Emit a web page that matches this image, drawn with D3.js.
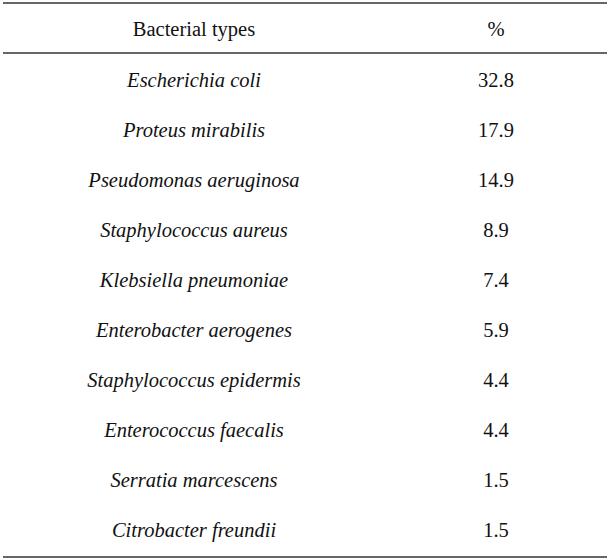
<!DOCTYPE html>
<html>
<head>
<meta charset="utf-8">
<script src="https://cdn.jsdelivr.net/npm/d3@7"></script>
<style>
  body { margin: 0; background: #fff; }
</style>
</head>
<body>
<script>
// table contents
var headers = ["Bacterial types", "%"];
var bacteria = ["Escherichia coli", "Proteus mirabilis", "Pseudomonas aeruginosa",
  "Staphylococcus aureus", "Klebsiella pneumoniae", "Enterobacter aerogenes",
  "Staphylococcus epidermis", "Enterococcus faecalis", "Serratia marcescens",
  "Citrobacter freundii"];
var percents = ["32.8", "17.9", "14.9", "8.9", "7.4", "5.9", "4.4", "4.4", "1.5", "1.5"];

var width = 612, height = 560;
var font = "'Liberation Serif', 'Times New Roman', 'DejaVu Serif', serif";

var svg = d3.select("body").append("svg")
  .attr("width", width)
  .attr("height", height);

// column centres
var x = d3.scaleOrdinal().domain(["name", "pct"]).range([194, 496]);

// row positions
var y = d3.scaleBand().domain(d3.range(bacteria.length))
  .range([55, 555]);

// header text
svg.selectAll(".head")
  .data(headers)
  .enter().append("text")
  .attr("class", "head")
  .attr("x", function(d, i) { return x(i == 0 ? "name" : "pct"); })
  .attr("y", 29)
  .attr("text-anchor", "middle")
  .attr("dominant-baseline", "central")
  .attr("font-family", font)
  .attr("font-size", 20.5)
  .attr("fill", "#111")
  .text(function(d) { return d; });

// rows
var rows = svg.selectAll(".row")
  .data(bacteria)
  .enter().append("g")
  .attr("class", "row")
  .attr("transform", function(d, i) { return "translate(0," + (y(i) + y.bandwidth() / 2) + ")"; });

rows.append("text")
  .attr("x", x("name"))
  .attr("text-anchor", "middle")
  .attr("dominant-baseline", "central")
  .attr("font-family", font)
  .attr("font-size", 20.5)
  .attr("font-style", "italic")
  .attr("fill", "#111")
  .text(function(d) { return d; });

rows.append("text")
  .attr("x", x("pct"))
  .attr("text-anchor", "middle")
  .attr("dominant-baseline", "central")
  .attr("font-family", font)
  .attr("font-size", 20.5)
  .attr("fill", "#111")
  .text(function(d, i) { return percents[i]; });

// horizontal rules
svg.selectAll(".rule")
  .data([3, 53, 557])
  .enter().append("line")
  .attr("class", "rule")
  .attr("x1", 3)
  .attr("x2", 607)
  .attr("y1", function(d) { return d; })
  .attr("y2", function(d) { return d; })
  .attr("stroke", "#333")
  .attr("stroke-width", 1.5);
</script>
</body>
</html>
